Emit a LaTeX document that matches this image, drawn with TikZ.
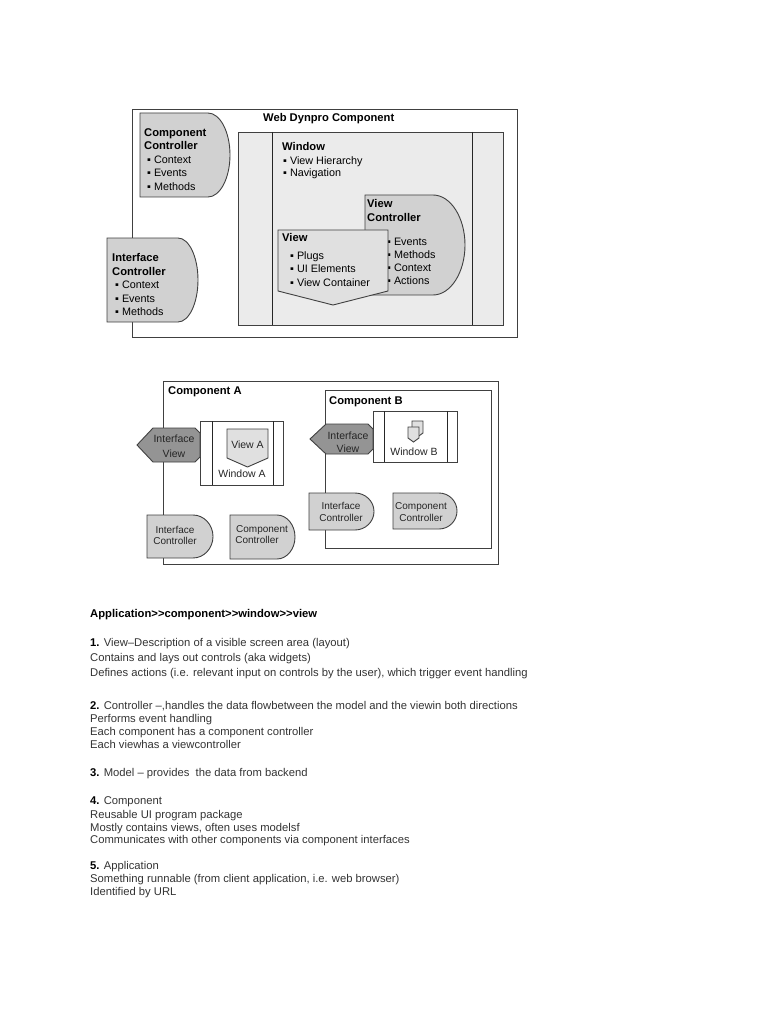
\documentclass[tikz,border=0pt]{standalone}
\usepackage{fontspec}
\setmainfont{Liberation Sans}
\usetikzlibrary{positioning}

% controller: flat box with a round right end
\newcommand{\ctrlbox}[5]{% left, top, right, bottom, bulge
  \draw[ctrl] (#1,#2) -- ({#3-#5},#2)
    .. controls ({#3-0.45*#5},#2) and (#3,{#2+0.225*(#4-#2)}) .. (#3,{(#2+#4)/2})
    .. controls (#3,{#4-0.225*(#4-#2)}) and ({#3-0.45*#5},#4) .. ({#3-#5},#4)
    -- (#1,#4) -- cycle;}
% view: box with a pointed bottom
\newcommand{\viewbox}[6]{% style, left, top, right, bottom, tip
  \draw[#1] (#2,#3) -- (#4,#3) -- (#4,#5) -- ({(#2+#4)/2},#6) -- (#2,#5) -- cycle;}
% interface view: arrow-like plug
\newcommand{\ifacebox}[4]{% tip, top, right, bottom
  \draw[iview] (#1,{(#2+#4)/2}) -- ({#1+16},#2) -- ({#3-5},#2) -- (#3,{#2+5})
    -- (#3,{#4-5}) -- ({#3-5},#4) -- ({#1+16},#4) -- cycle;}

\begin{document}
\begin{tikzpicture}[x=1pt, y=-1pt,
  box/.style={draw=black!75, fill=white, line width=0.9pt},
  win/.style={draw=black!75, fill=black!8, line width=0.9pt},
  ctrl/.style={draw=black!75, fill=black!18, line width=0.9pt},
  vw/.style={draw=black!75, fill=black!12, line width=0.9pt},
  iview/.style={draw=black!75, fill=black!42, line width=0.9pt},
  edge/.style={draw=black!85, line width=0.9pt},
  ttl/.style={font=\fontsize{11.2}{12}\selectfont\bfseries, anchor=base west, inner sep=0pt},
  itm/.style={font=\fontsize{10.8}{12}\selectfont, anchor=base west, inner sep=0pt},
  sml/.style={font=\fontsize{10.5}{12}\selectfont, anchor=base, inner sep=0pt, text=black!85},
  tny/.style={sml, font=\fontsize{10}{11}\selectfont},
  txt/.style={font=\fontsize{11.25}{13}\selectfont, anchor=base west, inner sep=0pt, text=black!80}]
  \useasboundingbox (0,0) rectangle (768,1024);

  % Web Dynpro component
  \draw[box] (132,109) rectangle (517,337);
  \node[ttl] (wdc) at (263,122) {Web Dynpro Component};
  % Window
  \draw[win] (238,132) rectangle (503,325);
  \draw[edge] (272,132) -- (272,325) (472,132) -- (472,325);
  \node[ttl] (wintitle) at (282,151) {Window};
  \node[itm] (win1) at (283,165) {▪ View Hierarchy};
  \node[itm] (win2) at (283,177) {▪ Navigation};
  % Component controller
  \ctrlbox{140}{113}{230}{197}{22}
  \node[ttl] (cctitle) at (144,137) {Component};
  \node[ttl] (cctitle2) at (144,150) {Controller};
  \foreach \t [count=\i] in {Context,Events,Methods}
    \node[itm] (cc\i) at (147,{150+13.5*\i}) {▪ \t};
  % Interface controller
  \ctrlbox{107}{238}{198}{322}{20}
  \node[ttl] (ictitle) at (112,261) {Interface};
  \node[ttl] (ictitle2) at (112,275) {Controller};
  \foreach \t [count=\i] in {Context,Events,Methods}
    \node[itm] (ic\i) at (115,{275+13.5*\i}) {▪ \t};
  % View controller
  \ctrlbox{365}{195}{465}{295}{32}
  \node[ttl] (vctitle) at (367,208) {View};
  \node[ttl] (vctitle2) at (367,222) {Controller};
  \foreach \t [count=\i] in {Events,Methods,Context,Actions}
    \node[itm] (vc\i) at (387,{231.7+13.3*\i}) {▪ \t};
  % View
  \viewbox{vw}{278}{230}{388}{291}{305}
  \node[ttl] (vtitle) at (282,241) {View};
  \foreach \t [count=\i] in {Plugs,UI Elements,View Container}
    \node[itm] (v\i) at (290,{245.5+13.5*\i}) {▪ \t};

  % Component A
  \draw[box] (163,381) rectangle (498,564);
  \node[ttl] (compa) at (168,394) {Component A};
  % Component B
  \draw[box] (325,390) rectangle (491,548);
  \node[ttl] (compb) at (329,404) {Component B};
  % Window A
  \draw[box] (200,421) rectangle (283,485);
  \draw[edge] (212,421) -- (212,485) (273,421) -- (273,485);
  \viewbox{vw}{227}{429}{268}{458}{467}
  \node[sml] (viewa) at (247.5,448) {View A};
  \node[sml] (wina) at (242,477) {Window A};
  % Interface view A
  \ifacebox{137}{428}{200}{462}
  \node[sml] (iva) at (174,442) {Interface};
  \node[sml] (iva2) at (174,457) {View};
  % Window B
  \draw[box] (373,411) rectangle (457,462);
  \draw[edge] (384,411) -- (384,462) (447,411) -- (447,462);
  \viewbox{vw}{412}{421}{423}{433}{437}
  \viewbox{vw}{408}{427}{419}{438}{442}
  \node[sml] (winb) at (414,455) {Window B};
  % Interface view B
  \ifacebox{310}{424}{373}{454}
  \node[sml] (ivb) at (348,439) {Interface};
  \node[sml] (ivb2) at (348,452) {View};
  % Controllers A and B
  \ctrlbox{147}{515}{213}{558}{20}
  \node[tny] (ica) at (175,533) {Interface};
  \node[tny] (ica2) at (175,544) {Controller};
  \ctrlbox{230}{515}{295}{559}{18}
  \node[tny] (cca) at (262,532) {Component};
  \node[tny] (cca2) at (257,543) {Controller};
  \ctrlbox{309}{493}{374}{530}{19}
  \node[tny] (icb) at (341,509) {Interface};
  \node[tny] (icb2) at (341,521) {Controller};
  \ctrlbox{393}{493}{457}{529}{18}
  \node[tny] (ccb) at (421,509) {Component};
  \node[tny] (ccb2) at (421,521) {Controller};

  % Notes
  \node[txt, text=black, font=\fontsize{11.25}{13}\selectfont\bfseries] (head) at (90,617)
    {Application>\kern0pt>component>\kern0pt>window>\kern0pt>view};
  \foreach \y/\t [count=\i] in {
      646/{\textbf{\color{black}1.} View–Description of a visible screen area (layout)},
      661/{Contains and lays out controls (aka widgets)},
      676/{Defines actions (i.e. relevant input on controls by the user), which trigger event handling},
      709/{\textbf{\color{black}2.} Controller –,handles the data flowbetween the model and the viewin both directions},
      722/{Performs event handling},
      735/{Each component has a component controller},
      748/{Each viewhas a viewcontroller},
      776/{\textbf{\color{black}3.} Model – provides\ \ the data from backend},
      804/{\textbf{\color{black}4.} Component},
      818/{Reusable UI program package},
      831/{Mostly contains views, often uses modelsf},
      843/{Communicates with other components via component interfaces},
      869/{\textbf{\color{black}5.} Application},
      882/{Something runnable (from client application, i.e. web browser)},
      895/{Identified by URL}}
    \node[txt] (note\i) at (90,\y) {\t};
\end{tikzpicture}
\end{document}
